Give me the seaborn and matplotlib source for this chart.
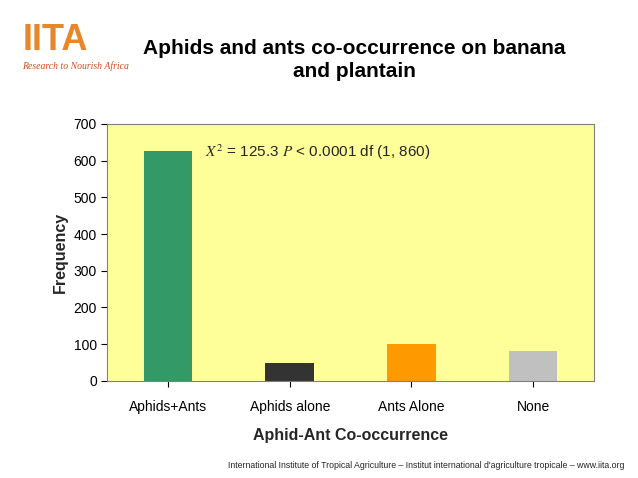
import matplotlib
matplotlib.use("Agg")
import matplotlib.pyplot as plt
import seaborn as sns
import pandas as pd

categories = ["Aphids+Ants", "Aphids alone", "Ants Alone", "None"]
values = [627, 49, 101, 82]
colors = ["#339966", "#333333", "#FF9900", "#C0C0C0"]

sns.set_style("white")
plt.rcParams['font.family'] = ['Liberation Sans', 'DejaVu Sans']
plt.rcParams['mathtext.fontset'] = 'stix'

fig = plt.figure(figsize=(6.38, 4.78), dpi=100)
ax = fig.add_axes([0.168, 0.203, 0.763, 0.538])
ax.set_facecolor("#FFFF99")
df = pd.DataFrame({"cat": categories, "val": values})
sns.barplot(data=df, x="cat", y="val", hue="cat", palette=colors, legend=False,
            width=0.4, ax=ax, saturation=1, linewidth=0)
ax.set_ylim(0, 700)
ax.set_yticks(range(0, 701, 100))
ax.tick_params(axis='both', labelsize=10, length=4, direction='out', left=True, bottom=True, colors='black')
ax.tick_params(axis='x', pad=10)
for s in ax.spines.values():
    s.set_color("#808080")
ax.set_xlabel("Aphid-Ant Co-occurrence", fontsize=11.5, fontweight='bold', labelpad=10)
ax.set_ylabel("Frequency", fontsize=11.5, fontweight='bold')
ax.text(0.2, 0.87, r"$\mathit{X}^2$ = 125.3 $\mathit{P}$ < 0.0001 df (1, 860)",
        transform=ax.transAxes, fontsize=11)

fig.text(0.555, 0.874, "Aphids and ants co-occurrence on banana\nand plantain", ha='center',
         va='center', fontsize=15, fontweight='bold', linespacing=1.25, color='black')
fig.text(0.035, 0.915, "IITA", fontsize=26, fontweight='bold', color="#E8872A", va='center')
fig.text(0.035, 0.862, "Research to Nourish Africa", fontsize=7, style='italic',
         color="#C8501E", va='center', family=['Liberation Serif'])
fig.text(0.978, 0.02, "International Institute of Tropical Agriculture – Institut international d'agriculture tropicale – www.iita.org",
         ha='right', fontsize=6.3)
fig.savefig("out.png", dpi=100)
